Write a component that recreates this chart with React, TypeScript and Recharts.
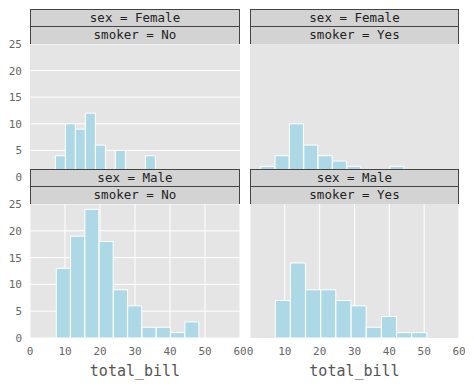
import React from 'react';
import { BarChart, Bar, XAxis, YAxis, CartesianGrid } from 'recharts';

const MONO = '"DejaVu Sans Mono", "Liberation Mono", monospace';

const femaleNoEdges = [7.25, 10.11, 12.97, 15.82, 18.68, 21.54, 24.4, 27.26, 30.12, 32.97, 35.83];
const femaleNoCounts = [4, 10, 9, 12, 6, 1, 5, 1, 1, 4];

const femaleYesEdges = [3.07, 7.19, 11.32, 15.44, 19.56, 23.69, 27.81, 31.93, 36.05, 40.18, 44.3];
const femaleYesCounts = [2, 4, 10, 6, 4, 3, 2, 0, 0, 2];

const maleNoEdges = [7.51, 11.59, 15.67, 19.76, 23.84, 27.92, 32.0, 36.09, 40.17, 44.25, 48.33];
const maleNoCounts = [13, 19, 24, 18, 9, 6, 2, 2, 1, 3];

const maleYesEdges = [7.25, 11.61, 15.96, 20.32, 24.67, 29.03, 33.39, 37.74, 42.1, 46.45, 50.81];
const maleYesCounts = [7, 14, 9, 9, 7, 6, 2, 4, 1, 1];

const xTicks = [0, 10, 20, 30, 40, 50, 60];
const yTicks = [0, 5, 10, 15, 20, 25];

const toBins = (edges: number[], counts: number[]) =>
  counts.map((count, i) => ({ mid: (edges[i] + edges[i + 1]) / 2, count }));

const tickStyle = { fontSize: 11, fill: '#666', fontFamily: MONO };

interface PanelProps {
  data: { mid: number; count: number }[];
  left: number;
  top: number;
  width: number;
  height: number;
  margin: { top: number; right: number; bottom: number; left: number };
  showX: boolean;
  showY: boolean;
  gridH: boolean;
  gridV: boolean;
}

const Panel = ({ data, left, top, width, height, margin, showX, showY, gridH, gridV }: PanelProps) => (
  <div style={{ position: 'absolute', left, top }}>
    <BarChart width={width} height={height} data={data} margin={margin} barCategoryGap={0} barGap={0}>
      <CartesianGrid fill="#e5e5e5" stroke="#ffffff" strokeWidth={1} horizontal={gridH} vertical={gridV} />
      <XAxis
        dataKey="mid"
        type="number"
        domain={[0, 60]}
        ticks={xTicks}
        interval={0}
        hide={!showX}
        height={45}
        tickLine={false}
        axisLine={false}
        tickSize={0}
        tickMargin={9}
        tick={tickStyle}
        label={{ value: 'total_bill', position: 'insideBottom', offset: 7, fill: '#555', fontSize: 15, fontFamily: MONO }}
      />
      <YAxis
        type="number"
        domain={[0, 25]}
        ticks={yTicks}
        interval={0}
        hide={!showY}
        width={30}
        tickLine={false}
        axisLine={false}
        tickSize={0}
        tickMargin={8}
        tick={tickStyle}
      />
      <Bar dataKey="count" fill="#add8e6" stroke="#ffffff" strokeWidth={1} isAnimationActive={false} />
    </BarChart>
  </div>
);

const Header = ({ text, left, top, width, last }: { text: string; left: number; top: number; width: number; last?: boolean }) => (
  <div
    style={{
      position: 'absolute',
      left,
      top,
      width,
      height: 18,
      boxSizing: 'border-box',
      border: '1px solid #444',
      borderBottom: last ? 'none' : '1px solid #444',
      background: '#d3d3d3',
      color: '#222',
      fontFamily: MONO,
      fontSize: 12.5,
      lineHeight: '16px',
      textAlign: 'center',
    }}
  >
    {text}
  </div>
);

const topMargin = { top: 8, right: 6, bottom: 8, left: 0 };
const bottomMargin = { top: 8, right: 6, bottom: 0, left: 0 };

export default function App() {
  return (
    <div style={{ position: 'absolute', left: 0, top: 0, width: 474, height: 387, background: '#fff', overflow: 'hidden', fontFamily: MONO }}>
      <Panel data={toBins(femaleNoEdges, femaleNoCounts)} left={0} top={36} width={246} height={149}
        margin={topMargin} showX={false} showY gridH gridV={false} />
      <Panel data={toBins(femaleYesEdges, femaleYesCounts)} left={244} top={36} width={221} height={149}
        margin={{ ...topMargin, left: 6 }} showX={false} showY={false} gridH={false} gridV={false} />
      <Panel data={toBins(maleNoEdges, maleNoCounts)} left={0} top={196} width={246} height={187}
        margin={bottomMargin} showX showY gridH gridV />
      <Panel data={toBins(maleYesEdges, maleYesCounts)} left={244} top={196} width={221} height={187}
        margin={{ ...bottomMargin, left: 6 }} showX showY={false} gridH={false} gridV />

      <Header text="sex = Female" left={30} top={9} width={210} />
      <Header text="smoker = No" left={30} top={26} width={210} last />
      <Header text="sex = Female" left={250} top={9} width={209} />
      <Header text="smoker = Yes" left={250} top={26} width={209} last />
      <Header text="sex = Male" left={30} top={169} width={210} />
      <Header text="smoker = No" left={30} top={186} width={210} last />
      <Header text="sex = Male" left={250} top={169} width={209} />
      <Header text="smoker = Yes" left={250} top={186} width={209} last />
    </div>
  );
}
